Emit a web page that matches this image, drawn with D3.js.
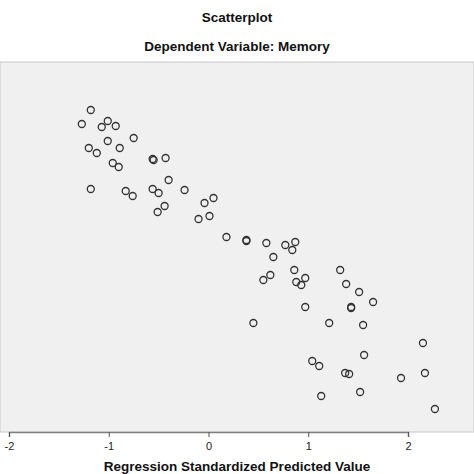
<!DOCTYPE html><html><head><meta charset="utf-8"><script src="https://d3js.org/d3.v7.min.js"></script>
<style>body{margin:0;background:#fff}</style></head><body><svg id="c" width="474" height="474"></svg>
<script>
const xTicks=[-2,-1,0,1,2];
const xVals=[-1.18,-1.27,-1.01,-1.07,-0.93,-0.75,-1.01,-1.20,-1.12,-0.89,-0.55,-0.56,-0.43,-0.96,-0.90,-0.40,-1.18,-0.83,-0.76,-0.56,-0.50,-0.24,-0.04,0.05,-0.44,-0.51,-0.10,0.01,0.18,0.38,0.38,0.58,0.77,0.87,0.84,0.65,0.86,0.62,0.55,0.88,0.97,0.93,1.32,1.38,1.51,1.65,0.97,1.43,1.43,0.45,1.21,1.55,2.15,1.56,1.04,1.11,1.37,1.41,2.17,1.93,1.52,1.13,2.27];
const pyVals=[110,124,121,127,126,138,141,148,153,148,160,159,158,163,167,180,189,191,196,189,193,190,203,198,206,212,219,216,237,240,241,243,245,242,250,257,270,275,280,282,278,285,270,284,292,302,307,307,308,323,323,325,343,355,361,366,373,374,373,378,392,396,409];
const yVals=pyVals.map(p=>432-p);
const svg=d3.select("#c");
const x=d3.scaleLinear().domain([-2,2]).range([9,408]);
const y=d3.scaleLinear().domain([0,370]).range([432,62]);
svg.append("rect").attr("x",0).attr("y",62).attr("width",474).attr("height",370).attr("fill","#f0f0f0").attr("stroke","#c8c8c8");
svg.append("g").attr("transform","translate(0,432)").call(d3.axisBottom(x).tickValues(xTicks).tickSize(5).tickFormat(d=>String(d)))
 .call(g=>{g.select(".domain").attr("stroke","#808080").attr("stroke-width",1.5);g.selectAll("line").attr("stroke","#555");g.selectAll("text").attr("font-family","Arial, Liberation Sans").attr("font-size",11).attr("fill","#222").attr("dy","0.9em");});
svg.append("g").selectAll("circle").data(xVals).join("circle").attr("cx",d=>x(d)).attr("cy",(d,i)=>y(yVals[i])).attr("r",3.5).attr("fill","none").attr("stroke","#333").attr("stroke-width",1.3);
const t=(txt,yy)=>svg.append("text").attr("x",237).attr("y",yy).attr("text-anchor","middle").attr("font-family","Arial, Liberation Sans").attr("font-weight","bold").attr("font-size",13.5).attr("fill","#111").text(txt);
t("Scatterplot",22);t("Dependent Variable: Memory",51);
t("Regression Standardized Predicted Value",471);
</script></body></html>
